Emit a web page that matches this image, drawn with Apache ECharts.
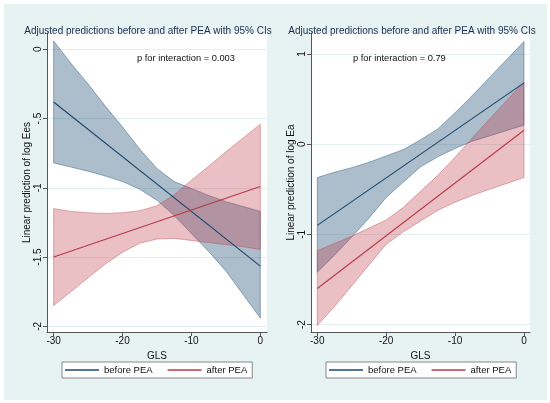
<!DOCTYPE html>
<html>
<head>
<meta charset="utf-8">
<script src="https://cdn.jsdelivr.net/npm/echarts@6/dist/echarts.min.js"></script>
<style>
  html, body { margin: 0; padding: 0; background: #fff; }
  #chart { width: 550px; height: 403px; }
</style>
</head>
<body>
<div id="chart"></div>
<script>
// GLS values where the CI bands were read
let gls = [-30, -27.5, -25, -22.5, -20, -17.5, -15, -12.5, -10, -7.5, -5, -2.5, 0];
let fitX = [-30, 0];

// left panel: log Ees
let eesBeforeFit = [-0.38, -1.565];
let eesBeforeUpper = [0.06, -0.10, -0.25, -0.41, -0.56, -0.72, -0.86, -0.955, -1.005, -1.055, -1.10, -1.135, -1.17];
let eesBeforeLower = [-0.82, -0.85, -0.88, -0.915, -0.955, -1.01, -1.09, -1.20, -1.33, -1.46, -1.60, -1.77, -1.94];
let eesAfterFit = [-1.50, -0.99];
let eesAfterUpper = [-1.15, -1.17, -1.18, -1.185, -1.18, -1.165, -1.13, -1.05, -0.945, -0.845, -0.74, -0.64, -0.54];
let eesAfterLower = [-1.85, -1.75, -1.65, -1.55, -1.465, -1.40, -1.37, -1.365, -1.38, -1.395, -1.41, -1.425, -1.445];

// right panel: log Ea
let eaBeforeFit = [-0.90, 0.68];
let eaBeforeUpper = [-0.37, -0.31, -0.26, -0.20, -0.13, -0.06, 0.05, 0.17, 0.35, 0.54, 0.74, 0.94, 1.14];
let eaBeforeLower = [-1.42, -1.23, -1.03, -0.82, -0.59, -0.42, -0.25, -0.14, -0.047, 0.033, 0.092, 0.152, 0.211];
let eaAfterFit = [-1.60, 0.155];
let eaAfterUpper = [-1.18, -1.10, -1.02, -0.93, -0.84, -0.70, -0.52, -0.345, -0.145, 0.07, 0.28, 0.485, 0.69];
let eaAfterLower = [-2.01, -1.80, -1.57, -1.34, -1.11, -0.97, -0.85, -0.733, -0.643, -0.567, -0.50, -0.435, -0.37];

let xTicks = [-30, -20, -10, 0];
let eesTicks = [-2, -1.5, -1, -0.5, 0];
let eaTicks = [-2, -1, 0, 1];

let navy = "#1a476f";
let maroon = "#b83a48";
let navyFill = "rgba(26,71,111,0.36)";
let maroonFill = "rgba(190,60,75,0.32)";
let navyEdge = "rgba(26,71,111,0.5)";
let maroonEdge = "rgba(190,60,75,0.5)";
let font = "'Liberation Sans', Arial, sans-serif";
let titleText = "Adjusted predictions before and after PEA with 95% CIs";

let stata = (v) => String(v).replace("0.", ".");
let pairs = (xs, ys) => xs.map((x, i) => [x, ys[i]]);

// confidence band as one filled shape, placed through the axes
let band = (idx, key, lower, upper, fill, edge) => ({
  type: "custom",
  name: key,
  xAxisIndex: idx,
  yAxisIndex: idx,
  data: gls.map((x, i) => [x, lower[i], upper[i]]),
  encode: { x: 0, y: [1, 2] },
  silent: true,
  z: 2,
  renderItem: (params, api) => {
    if (params.dataIndex !== 0) return null;
    let top = gls.map((x, i) => api.coord([x, upper[i]]));
    let bot = gls.map((x, i) => api.coord([x, lower[i]]));
    let edgeStyle = { fill: null, stroke: edge, lineWidth: 0.8 };
    return {
      type: "group",
      children: [
        {
          type: "polygon",
          shape: { points: top.concat(bot.slice().reverse()) },
          style: { fill: fill, stroke: null },
        },
        { type: "polyline", shape: { points: top }, style: edgeStyle },
        { type: "polyline", shape: { points: bot }, style: edgeStyle },
        { type: "polyline", shape: { points: [top[0], bot[0]] }, style: edgeStyle },
        { type: "polyline", shape: { points: [top[top.length - 1], bot[bot.length - 1]] }, style: edgeStyle },
      ],
    };
  },
});

let fit = (idx, name, ys, color) => ({
  type: "line",
  name: name,
  xAxisIndex: idx,
  yAxisIndex: idx,
  data: pairs(fitX, ys),
  symbol: "none",
  color: color,
  lineStyle: { color: color, width: 1.1 },
  z: 5,
});

let xAxis = (idx, min, max) => ({
  type: "value",
  gridIndex: idx,
  min: min,
  max: max,
  name: "GLS",
  nameLocation: "middle",
  nameGap: 15,
  nameTextStyle: { fontFamily: font, fontSize: 10, color: "#111" },
  axisLine: { onZero: false, lineStyle: { color: "#555", width: 1 } },
  axisTick: { length: 4, customValues: xTicks, lineStyle: { color: "#555" } },
  axisLabel: { customValues: xTicks, margin: 4, fontFamily: font, fontSize: 10, color: "#111" },
  splitLine: { show: false },
});

let yAxis = (idx, min, max, ticks, name) => ({
  type: "value",
  gridIndex: idx,
  min: min,
  max: max,
  name: name,
  nameLocation: "middle",
  nameGap: 14,
  nameTextStyle: { fontFamily: font, fontSize: 10, color: "#111" },
  axisLine: { show: true, onZero: false, lineStyle: { color: "#555", width: 1 } },
  axisTick: { show: true, length: 4, customValues: ticks, lineStyle: { color: "#555" } },
  axisLabel: {
    customValues: ticks,
    rotate: 90,
    margin: 4,
    fontFamily: font,
    fontSize: 10,
    color: "#111",
    formatter: stata,
  },
  splitLine: { show: true, lineStyle: { color: "#e4eff1", width: 1 } },
});

let legend = (left) => ({
  left: left,
  top: 362,
  orient: "horizontal",
  data: ["before PEA", "after PEA"],
  icon: "rect",
  itemWidth: 34,
  itemHeight: 1.5,
  itemGap: 15,
  padding: [3, 5, 3, 3],
  backgroundColor: "#fff",
  borderColor: "#888",
  borderWidth: 1,
  borderRadius: 0,
  selectedMode: false,
  textStyle: { fontFamily: font, fontSize: 9.5, color: "#111" },
});

let chart = echarts.init(document.getElementById("chart"), null, { renderer: "canvas" });
let option = {
  animation: false,
  backgroundColor: "#fff",
  textStyle: { fontFamily: font },
  graphic: [
    {
      type: "rect",
      z: -100,
      silent: true,
      shape: { x: 4, y: 4, width: 543, height: 396 },
      style: { fill: "#e7f2f3" },
    },
    {
      type: "text",
      left: 137,
      top: 54,
      z: 10,
      style: { text: "p for interaction = 0.003", fill: "#111", font: "9.3px " + font },
    },
    {
      type: "text",
      left: 353,
      top: 54,
      z: 10,
      style: { text: "p for interaction = 0.79", fill: "#111", font: "9.3px " + font },
    },
  ],
  title: [
    {
      text: titleText,
      left: 143,
      top: 21,
      textAlign: "center",
      textStyle: { fontFamily: font, fontSize: 10, fontWeight: "normal", color: "#1c2f4f" },
    },
    {
      text: titleText,
      left: 407,
      top: 21,
      textAlign: "center",
      textStyle: { fontFamily: font, fontSize: 10, fontWeight: "normal", color: "#1c2f4f" },
    },
  ],
  legend: [legend(62), legend(326)],
  grid: [
    { left: 47, top: 33, width: 220, height: 299, show: true, backgroundColor: "#fff", borderWidth: 0 },
    { left: 311, top: 33, width: 219, height: 299, show: true, backgroundColor: "#fff", borderWidth: 0 },
  ],
  xAxis: [xAxis(0, -30.96, 0.97), xAxis(1, -30.91, 0.87)],
  yAxis: [
    yAxis(0, -2.041, 0.118, eesTicks, "Linear prediction of log Ees"),
    yAxis(1, -2.082, 1.233, eaTicks, "Linear prediction of log Ea"),
  ],
  series: [
    band(0, "eesB", eesBeforeLower, eesBeforeUpper, navyFill, navyEdge),
    band(0, "eesA", eesAfterLower, eesAfterUpper, maroonFill, maroonEdge),
    fit(0, "before PEA", eesBeforeFit, navy),
    fit(0, "after PEA", eesAfterFit, maroon),
    band(1, "eaB", eaBeforeLower, eaBeforeUpper, navyFill, navyEdge),
    band(1, "eaA", eaAfterLower, eaAfterUpper, maroonFill, maroonEdge),
    fit(1, "before PEA", eaBeforeFit, navy),
    fit(1, "after PEA", eaAfterFit, maroon),
  ],
};
chart.setOption(option);
</script>
</body>
</html>
